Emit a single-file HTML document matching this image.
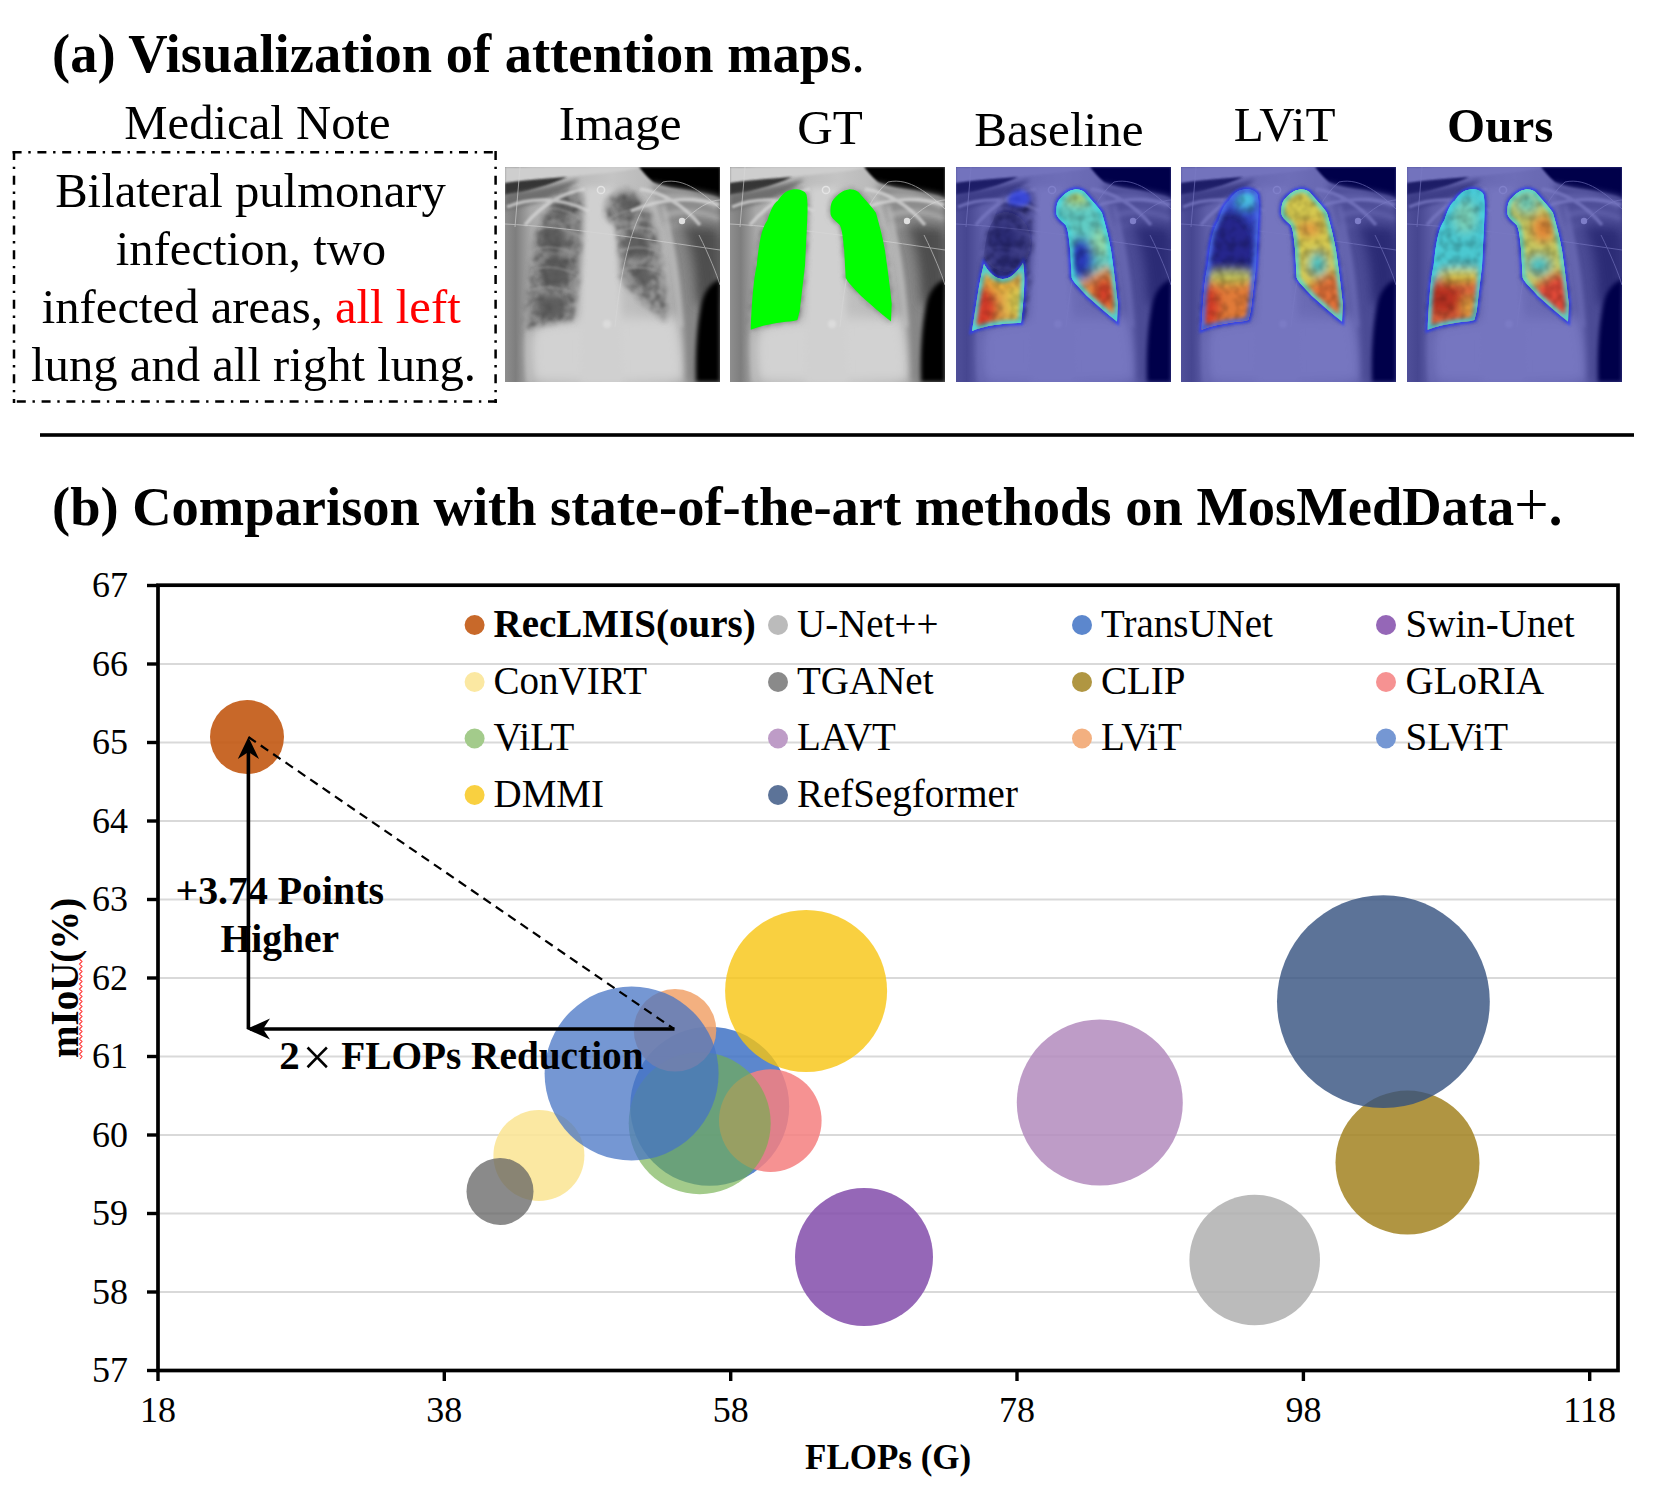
<!DOCTYPE html>
<html><head><meta charset="utf-8"><title>figure</title>
<style>html,body{margin:0;padding:0;background:#fff;} body{width:1661px;height:1491px;overflow:hidden;} svg{display:block;}</style>
</head><body>
<svg width="1661" height="1491" viewBox="0 0 1661 1491">

<defs>
 <filter id="b1" x="-20%" y="-20%" width="140%" height="140%"><feGaussianBlur stdDeviation="1"/></filter>
 <filter id="b3" x="-50%" y="-50%" width="200%" height="200%"><feGaussianBlur stdDeviation="3"/></filter>
 <filter id="b6" x="-50%" y="-50%" width="200%" height="200%"><feGaussianBlur stdDeviation="6"/></filter>
 <filter id="b10" x="-50%" y="-50%" width="200%" height="200%"><feGaussianBlur stdDeviation="10"/></filter>

 <filter id="b2" x="-50%" y="-50%" width="200%" height="200%"><feGaussianBlur stdDeviation="2"/></filter>
 <filter id="b5" x="-50%" y="-50%" width="200%" height="200%"><feGaussianBlur stdDeviation="5"/></filter>
 <clipPath id="cImg"><rect x="0" y="0" width="215" height="215"/></clipPath>
 <path id="lungL" d="M20.7,162.8 C22,130 24,110 26.7,98.6 C29,75 32,60 37.3,53.4 C41,42 44,36 47.8,33.7 C52,27 57,23 62.9,22.4 C70,22 75,24 76.5,27.7 C78,34 77.5,45 77.2,53.4 L75,98.6 L69.7,143.9 L67.4,153 C62,155 57,154.5 52.3,155.2 C40,157 30,159 20.7,162.8 Z"/>
 <path id="lungR" d="M118.7,22.4 C125,22 129,25 130.8,27.7 C137,35 142,40 145.9,45.8 C150,60 153,72 155,83.5 C158,105 160,120 161.7,136.4 L161,154.5 C150,146 140,137 130.8,128.8 C124,121 118,116 115.7,110.7 L114.2,83.5 C113,70 112,62 109.7,57.9 C104,53 101,50 100.6,47.3 C100,40 101,35 103.6,32.2 C108,27 113,23 118.7,22.4 Z"/>
 <clipPath id="cLL"><use href="#lungL"/></clipPath>
 <clipPath id="cLR"><use href="#lungR"/></clipPath>
 
 <filter id="tex" x="0" y="0" width="100%" height="100%">
  <feTurbulence type="fractalNoise" baseFrequency="0.11" numOctaves="2" seed="7" result="n"/>
  <feColorMatrix in="n" type="matrix" values="0 0 0 0 0  0 0 0 0 0  0 0 0 0 0  0 0 0 -2.2 1.35" result="m"/>
  <feComposite in="m" in2="SourceGraphic" operator="in" result="c"/>
  <feGaussianBlur in="c" stdDeviation="1.1"/>
 </filter>
 <mask id="mLL" maskUnits="userSpaceOnUse" x="0" y="0" width="215" height="215"><use href="#lungL" fill="#fff" filter="url(#b3)"/></mask>
 <mask id="mLR" maskUnits="userSpaceOnUse" x="0" y="0" width="215" height="215"><use href="#lungR" fill="#fff" filter="url(#b3)"/></mask>
 <linearGradient id="gBody" x1="0" y1="0" x2="1" y2="0">
  <stop offset="0" stop-color="#8e8e8e"/>
  <stop offset="0.05" stop-color="#7e7e7e"/>
  <stop offset="0.12" stop-color="#a8a8a8"/>
  <stop offset="0.2" stop-color="#b4b4b4"/>
  <stop offset="0.5" stop-color="#c4c4c4"/>
  <stop offset="0.75" stop-color="#b4b4b4"/>
  <stop offset="0.84" stop-color="#9c9c9c"/>
  <stop offset="0.9" stop-color="#7c7c7c"/>
  <stop offset="1" stop-color="#707070"/>
 </linearGradient>
 <g id="xray">
  <rect x="0" y="0" width="215" height="215" fill="url(#gBody)"/>
  <!-- lower body light -->
  <path d="M28,215 C24,185 24,170 30,160 C60,150 150,150 172,150 C178,175 180,195 180,215 Z" fill="#d2d2d2" filter="url(#b6)"/>
  <!-- mediastinum -->
  <path d="M80,20 L108,20 C112,60 116,120 118,215 L75,215 C76,120 78,60 80,20 Z" fill="#d0d0d0" filter="url(#b3)"/>
  <!-- top band -->
  <path d="M0,0 L138,0 C120,5 80,8 40,12 C25,13 10,15 0,17 Z" fill="#cecece" filter="url(#b1)"/>
  <path d="M0,16 C15,14 35,12 62,10 C50,16 35,21 18,25 L0,28 Z" fill="#353535" filter="url(#b1)"/>
  <path d="M0,28 C20,25 50,18 75,12 C60,25 45,32 30,36 C15,40 5,42 0,44 Z" fill="#6e6e6e" filter="url(#b2)"/>
  <!-- top right black -->
  <path d="M134,0 L215,0 L215,31 C205,28 195,25 180,23 C165,21 155,19 148,15 C142,10 138,5 134,0 Z" fill="#050505" filter="url(#b1)"/>
  <!-- right shoulder -->
  <path d="M146,16 C165,22 195,24 215,30 L215,72 C200,66 180,62 160,58 Z" fill="#8c8c8c" filter="url(#b3)"/>
  <g fill="none" stroke="#c0c0c0" stroke-width="5" opacity="0.55" filter="url(#b2)"><path d="M150,32 C170,26 195,30 212,40"/><path d="M160,48 C180,42 200,45 214,52"/></g>
  <!-- right flank / arm -->
  <path d="M162,60 C176,100 181,160 181,215 L193,215 C192,160 191,110 194,60 Z" fill="#868686" filter="url(#b3)"/>
  <path d="M176,58 L215,60 L215,132 L192,138 C190,100 186,76 176,58 Z" fill="#4e4e4e" filter="url(#b6)"/>
  <path d="M215,112 C206,116 199,124 196,138 C192,160 190,185 191,215 L215,215 Z" fill="#050505" filter="url(#b2)"/>
  <!-- ribcage edge -->
  <g fill="none" stroke="#c6c6c6" stroke-width="4" opacity="0.7" filter="url(#b2)">
   <path d="M48,32 C38,60 28,100 24,140 C22,170 22,195 24,215"/>
   <path d="M158,38 C166,70 172,110 176,160"/>
  </g>
  <!-- lungs -->
  <g filter="url(#b3)">
   <use href="#lungL" fill="#8a8a8a"/>
   <use href="#lungR" fill="#929292"/>
  </g>
  <g mask="url(#mLL)" opacity="0.4"><rect x="10" y="15" width="75" height="155" fill="#000" filter="url(#tex)"/></g>
  <g mask="url(#mLR)" opacity="0.4"><rect x="95" y="15" width="75" height="150" fill="#000" filter="url(#tex)"/></g>
  <g filter="url(#b3)" fill="#505050" opacity="0.75">
   <ellipse cx="58" cy="40" rx="11" ry="9"/>
   <ellipse cx="48" cy="72" rx="13" ry="14"/>
   <ellipse cx="50" cy="105" rx="14" ry="16"/>
   <ellipse cx="46" cy="140" rx="14" ry="12"/>
   <ellipse cx="124" cy="38" rx="11" ry="9"/>
   <ellipse cx="132" cy="78" rx="12" ry="14"/>
   <ellipse cx="138" cy="108" rx="9" ry="10"/>
  </g>
  <g clip-path="url(#cLL)" fill="none" stroke="#a4a4a4" stroke-width="2" opacity="0.45" filter="url(#b1)">
   <path d="M20,50 C40,35 60,40 80,55"/><path d="M18,68 C40,55 60,60 80,72"/><path d="M16,88 C40,75 60,80 80,92"/><path d="M14,108 C40,95 60,100 80,112"/><path d="M12,128 C40,115 60,120 80,132"/>
  </g>
  <g clip-path="url(#cLR)" fill="none" stroke="#a8a8a8" stroke-width="2" opacity="0.45" filter="url(#b1)">
   <path d="M100,55 C120,40 140,38 165,52"/><path d="M100,72 C120,58 140,56 165,70"/><path d="M100,92 C120,78 140,76 165,90"/><path d="M100,112 C120,98 140,96 165,110"/>
  </g>
  <!-- clavicles -->
  <g fill="none" stroke="#d8d8d8" stroke-width="3.5" opacity="0.75" filter="url(#b1)">
   <path d="M2,40 C25,30 55,30 84,44"/>
   <path d="M126,44 C158,30 190,30 214,38"/>
   <path d="M20,58 C35,40 55,26 80,22"/>
   <path d="M195,58 C180,40 160,26 135,22"/>
  </g>
  <!-- wires -->
  <g fill="none" stroke="#d8d8d8" stroke-width="1" opacity="0.6">
   <path d="M0,57 C60,60 140,72 215,83"/>
   <path d="M110,160 C116,100 128,40 158,15 C180,10 200,28 215,42"/>
   <path d="M178,55 C190,42 205,33 215,33"/>
   <path d="M194,68 C204,88 212,108 215,118"/>
   <path d="M15,0 L10,60"/>
  </g>
  <circle cx="96" cy="23" r="3.6" fill="none" stroke="#e4e4e4" stroke-width="1.5"/>
  <circle cx="177" cy="54" r="3.2" fill="#e0e0e0"/>
  <circle cx="102" cy="157" r="4" fill="#dcdcdc" filter="url(#b1)"/>
 </g>
<path id="hBL" d="M28,97 C33,106 40,112 47,112 C55,112 62,104 67,96 C70,110 67,140 65,156 C50,156 30,158 16,164 C20,140 23,115 28,97 Z"/><path id="hBLs" d="M52,34 C52,27 58,23 64,23 C70,23 74,27 74,32 C74,37 70,39 63,39 C56,39 52,38 52,34 Z"/><g id="heatbase">
  <use href="#xray"/>
  <rect x="0" y="0" width="215" height="215" fill="#0000a8" opacity="0.44"/>
 </g>
</defs>

<g transform="translate(505,167)" clip-path="url(#cImg)"><use href="#xray"/></g>
<g transform="translate(730,167)" clip-path="url(#cImg)"><use href="#xray"/><use href="#lungL" fill="#00ff00"/><use href="#lungR" fill="#00ff00"/></g>
<g transform="translate(956,167)" clip-path="url(#cImg)"><use href="#heatbase"/><clipPath id="hc1"><use href="#hBL"/></clipPath><use href="#hBL" fill="none" stroke="#2a3cff" stroke-width="4.5" opacity="0.75" filter="url(#b1)"/><use href="#hBL" fill="#48d8e0"/><g clip-path="url(#hc1)"><g filter="url(#b5)"><rect x="0" y="90" width="90" height="80" fill="#e0a848"/><ellipse cx="26" cy="142" rx="16" ry="24" fill="#d63c2a"/><ellipse cx="45" cy="118" rx="14" ry="8" fill="#e8b040"/><ellipse cx="60" cy="135" rx="8" ry="16" fill="#d8cc50"/></g><use href="#hBL" fill="none" stroke="#48d8e0" stroke-width="6" filter="url(#b2)"/></g><clipPath id="hc2"><use href="#lungR"/></clipPath><use href="#lungR" fill="none" stroke="#2a3cff" stroke-width="4.5" opacity="0.75" filter="url(#b1)"/><use href="#lungR" fill="#48d8e0"/><g clip-path="url(#hc2)"><g filter="url(#b5)"><rect x="90" y="0" width="90" height="170" fill="#60ccc4"/><ellipse cx="122" cy="30" rx="14" ry="9" fill="#a8d078"/><ellipse cx="146" cy="75" rx="10" ry="14" fill="#90d8a8"/><ellipse cx="124" cy="92" rx="14" ry="21" fill="#2a3ab8"/><path d="M118,120 L150,100 L170,104 L170,165 L116,134Z" fill="#e08a40"/><ellipse cx="148" cy="126" rx="11" ry="15" fill="#d4402c"/></g><use href="#lungR" fill="none" stroke="#48d8e0" stroke-width="6" filter="url(#b2)"/></g><g mask="url(#mLL)" opacity="0.25"><rect x="10" y="15" width="75" height="155" fill="#000" filter="url(#tex)"/></g><g mask="url(#mLR)" opacity="0.25"><rect x="95" y="15" width="75" height="150" fill="#000" filter="url(#tex)"/></g><use href="#hBLs" fill="#3446e8" opacity="0.8" filter="url(#b2)"/><g clip-path="url(#cLL)" filter="url(#b3)"><ellipse cx="50" cy="75" rx="25" ry="30" fill="#181860" opacity="0.35"/></g></g>
<g transform="translate(1181,167)" clip-path="url(#cImg)"><use href="#heatbase"/><clipPath id="hc3"><use href="#lungL"/></clipPath><use href="#lungL" fill="none" stroke="#2a3cff" stroke-width="4.5" opacity="0.75" filter="url(#b1)"/><use href="#lungL" fill="#4a6ae8"/><g clip-path="url(#hc3)"><g filter="url(#b5)"><rect x="0" y="0" width="90" height="170" fill="#3448c8"/><ellipse cx="66" cy="32" rx="11" ry="10" fill="#48c0e0"/><ellipse cx="48" cy="80" rx="28" ry="36" fill="#26268c"/><rect x="0" y="115" width="90" height="60" fill="#e07a38"/><ellipse cx="50" cy="110" rx="28" ry="6" fill="#c8d058"/><ellipse cx="27" cy="140" rx="12" ry="22" fill="#d63c2a"/></g><use href="#lungL" fill="none" stroke="#4a6ae8" stroke-width="6" filter="url(#b2)"/></g><clipPath id="hc4"><use href="#lungR"/></clipPath><use href="#lungR" fill="none" stroke="#2a3cff" stroke-width="4.5" opacity="0.75" filter="url(#b1)"/><use href="#lungR" fill="#58d8d0"/><g clip-path="url(#hc4)"><g filter="url(#b5)"><rect x="90" y="0" width="90" height="170" fill="#d4c850"/><ellipse cx="128" cy="62" rx="12" ry="8" fill="#e09a40"/><ellipse cx="137" cy="97" rx="9" ry="12" fill="#40c0c0"/><path d="M128,118 L150,105 L168,108 L168,165 L120,130Z" fill="#e07038"/></g><use href="#lungR" fill="none" stroke="#58d8d0" stroke-width="6" filter="url(#b2)"/></g><g mask="url(#mLL)" opacity="0.25"><rect x="10" y="15" width="75" height="155" fill="#000" filter="url(#tex)"/></g><g mask="url(#mLR)" opacity="0.25"><rect x="95" y="15" width="75" height="150" fill="#000" filter="url(#tex)"/></g></g>
<g transform="translate(1407,167)" clip-path="url(#cImg)"><use href="#heatbase"/><clipPath id="hc5"><use href="#lungL"/></clipPath><use href="#lungL" fill="none" stroke="#2a3cff" stroke-width="4.5" opacity="0.75" filter="url(#b1)"/><use href="#lungL" fill="#48d0e0"/><g clip-path="url(#hc5)"><g filter="url(#b5)"><rect x="0" y="0" width="90" height="170" fill="#4cc8d0"/><ellipse cx="58" cy="50" rx="12" ry="16" fill="#78d0b8"/><rect x="0" y="112" width="90" height="60" fill="#d8603a"/><ellipse cx="55" cy="108" rx="25" ry="6" fill="#d8d048"/><ellipse cx="36" cy="132" rx="20" ry="16" fill="#b83020"/><ellipse cx="62" cy="140" rx="8" ry="12" fill="#e0a040"/></g><use href="#lungL" fill="none" stroke="#48d0e0" stroke-width="6" filter="url(#b2)"/></g><clipPath id="hc6"><use href="#lungR"/></clipPath><use href="#lungR" fill="none" stroke="#2a3cff" stroke-width="4.5" opacity="0.75" filter="url(#b1)"/><use href="#lungR" fill="#58d8d0"/><g clip-path="url(#hc6)"><g filter="url(#b5)"><rect x="90" y="0" width="90" height="170" fill="#c4c860"/><ellipse cx="120" cy="35" rx="12" ry="12" fill="#70c8b0"/><ellipse cx="136" cy="62" rx="12" ry="14" fill="#e08838"/><ellipse cx="132" cy="98" rx="12" ry="10" fill="#48c0c0"/><path d="M128,118 L150,105 L168,108 L168,165 L120,130Z" fill="#e04a38"/></g><use href="#lungR" fill="none" stroke="#58d8d0" stroke-width="6" filter="url(#b2)"/></g><g mask="url(#mLL)" opacity="0.25"><rect x="10" y="15" width="75" height="155" fill="#000" filter="url(#tex)"/></g><g mask="url(#mLR)" opacity="0.25"><rect x="95" y="15" width="75" height="150" fill="#000" filter="url(#tex)"/></g></g>
<g fill="none" stroke="#000" stroke-width="2.5" stroke-dasharray="9 6.7 2.4 6.7"><path d="M12.6,152.3 H497"/><path d="M14,151 V403"/><path d="M495.6,151 V403"/><path d="M497,401.5 H12.6"/></g>
<g font-family='"Liberation Serif", serif' fill="#000">
<text x="52" y="72" font-size="54.5" font-weight="bold">(a) Visualization of attention maps<tspan font-weight="normal">.</tspan></text>
<text x="52" y="524.5" font-size="54.5" font-weight="bold">(b) Comparison with state-of-the-art methods on MosMedData<tspan font-weight="normal" font-size="61">+</tspan>.</text>
<text x="257.5" y="138.5" font-size="48.7" text-anchor="middle">Medical Note</text>
<text x="620.2" y="140.4" font-size="49.2" text-anchor="middle">Image</text>
<text x="830" y="144" font-size="49.2" text-anchor="middle">GT</text>
<text x="1059" y="146" font-size="49.2" text-anchor="middle">Baseline</text>
<text x="1284.6" y="141" font-size="49.2" text-anchor="middle">LViT</text>
<text x="1500.2" y="142" font-size="49" font-weight="bold" text-anchor="middle">Ours</text>
<g font-size="48.7" text-anchor="middle">
<text x="250.5" y="207">Bilateral pulmonary</text>
<text x="251" y="265">infection, two</text>
<text x="251.2" y="323.3">infected areas, <tspan fill="#ff0000">all left</tspan></text>
<text x="253.5" y="381">lung and all right lung.</text>
</g></g>
<rect x="40" y="433.2" width="1594" height="3.6" fill="#000"/>
<g stroke="#d9d9d9" stroke-width="2"><line x1="160" y1="1370.5" x2="1616" y2="1370.5"/><line x1="160" y1="1292.0" x2="1616" y2="1292.0"/><line x1="160" y1="1213.5" x2="1616" y2="1213.5"/><line x1="160" y1="1135.0" x2="1616" y2="1135.0"/><line x1="160" y1="1056.5" x2="1616" y2="1056.5"/><line x1="160" y1="978.0" x2="1616" y2="978.0"/><line x1="160" y1="899.5" x2="1616" y2="899.5"/><line x1="160" y1="821.0" x2="1616" y2="821.0"/><line x1="160" y1="742.5" x2="1616" y2="742.5"/><line x1="160" y1="664.0" x2="1616" y2="664.0"/></g>
<g><circle cx="247" cy="737" r="37" fill="rgb(194, 88, 18)" fill-opacity="0.9"/><circle cx="1254.7" cy="1260" r="65.3" fill="rgb(175, 175, 175)" fill-opacity="0.85"/><circle cx="709.7" cy="1106.3" r="79.5" fill="rgb(63, 114, 196)" fill-opacity="0.85"/><circle cx="864" cy="1257" r="69" fill="rgb(130, 76, 170)" fill-opacity="0.85"/><circle cx="538.9" cy="1155.5" r="45.5" fill="rgb(250, 229, 149)" fill-opacity="0.88"/><circle cx="500" cy="1191.4" r="33.5" fill="rgb(99, 99, 99)" fill-opacity="0.75"/><circle cx="1407.5" cy="1162.6" r="72" fill="rgb(162, 131, 33)" fill-opacity="0.85"/><circle cx="770.3" cy="1120.6" r="51.3" fill="rgb(245, 128, 128)" fill-opacity="0.86"/><circle cx="699.7" cy="1123.2" r="71" fill="rgb(115, 176, 78)" fill-opacity="0.655"/><circle cx="1099.8" cy="1102.5" r="83" fill="rgb(179, 139, 189)" fill-opacity="0.85"/><circle cx="675" cy="1030.3" r="41.3" fill="rgb(241, 162, 106)" fill-opacity="0.85"/><circle cx="631.6" cy="1073.5" r="87" fill="rgb(71, 116, 196)" fill-opacity="0.75"/><circle cx="806.1" cy="991" r="81" fill="rgb(248, 196, 16)" fill-opacity="0.8"/><circle cx="1383.4" cy="1001.6" r="106.4" fill="rgb(51, 80, 126)" fill-opacity="0.8"/></g>
<rect x="158" y="585.2" width="1460" height="785.3" fill="none" stroke="#000" stroke-width="3.7"/>
<g stroke="#000" stroke-width="3.4"><line x1="147" y1="1370.5" x2="158" y2="1370.5"/><line x1="147" y1="1292.0" x2="158" y2="1292.0"/><line x1="147" y1="1213.5" x2="158" y2="1213.5"/><line x1="147" y1="1135.0" x2="158" y2="1135.0"/><line x1="147" y1="1056.5" x2="158" y2="1056.5"/><line x1="147" y1="978.0" x2="158" y2="978.0"/><line x1="147" y1="899.5" x2="158" y2="899.5"/><line x1="147" y1="821.0" x2="158" y2="821.0"/><line x1="147" y1="742.5" x2="158" y2="742.5"/><line x1="147" y1="664.0" x2="158" y2="664.0"/><line x1="147" y1="585.5" x2="158" y2="585.5"/><line x1="158.0" y1="1370" x2="158.0" y2="1381"/><line x1="444.3" y1="1370" x2="444.3" y2="1381"/><line x1="730.7" y1="1370" x2="730.7" y2="1381"/><line x1="1017.0" y1="1370" x2="1017.0" y2="1381"/><line x1="1303.4" y1="1370" x2="1303.4" y2="1381"/><line x1="1589.7" y1="1370" x2="1589.7" y2="1381"/></g>
<g font-family='"Liberation Serif", serif' font-size="36" fill="#000"><text x="128" y="1382.0" text-anchor="end">57</text><text x="128" y="1303.5" text-anchor="end">58</text><text x="128" y="1225.0" text-anchor="end">59</text><text x="128" y="1146.5" text-anchor="end">60</text><text x="128" y="1068.0" text-anchor="end">61</text><text x="128" y="989.5" text-anchor="end">62</text><text x="128" y="911.0" text-anchor="end">63</text><text x="128" y="832.5" text-anchor="end">64</text><text x="128" y="754.0" text-anchor="end">65</text><text x="128" y="675.5" text-anchor="end">66</text><text x="128" y="597.0" text-anchor="end">67</text><text x="158.0" y="1422.2" text-anchor="middle">18</text><text x="444.3" y="1422.2" text-anchor="middle">38</text><text x="730.7" y="1422.2" text-anchor="middle">58</text><text x="1017.0" y="1422.2" text-anchor="middle">78</text><text x="1303.4" y="1422.2" text-anchor="middle">98</text><text x="1589.7" y="1422.2" text-anchor="middle">118</text></g>
<g font-family='"Liberation Serif", serif' font-size="39" fill="#000"><circle cx="474.6" cy="625" r="10" fill="rgb(200, 105, 42)"/><text x="493.5" y="636.5" font-weight="bold">RecLMIS(ours)</text><circle cx="778" cy="625" r="10" fill="rgb(187, 187, 187)"/><text x="797" y="636.5">U-Net++</text><circle cx="1082" cy="625" r="10" fill="rgb(92, 135, 205)"/><text x="1101" y="636.5">TransUNet</text><circle cx="1386" cy="625" r="10" fill="rgb(149, 103, 183)"/><text x="1405.6" y="636.5">Swin-Unet</text><circle cx="474.6" cy="682" r="10" fill="rgb(251, 232, 162)"/><text x="493.5" y="693.5">ConVIRT</text><circle cx="778" cy="682" r="10" fill="rgb(138, 138, 138)"/><text x="797" y="693.5">TGANet</text><circle cx="1082" cy="682" r="10" fill="rgb(176, 150, 66)"/><text x="1101" y="693.5">CLIP</text><circle cx="1386" cy="682" r="10" fill="rgb(246, 146, 146)"/><text x="1405.6" y="693.5">GLoRIA</text><circle cx="474.6" cy="738.5" r="10" fill="rgb(163, 203, 139)"/><text x="493.5" y="750">ViLT</text><circle cx="778" cy="738.5" r="10" fill="rgb(190, 156, 199)"/><text x="797" y="750">LAVT</text><circle cx="1082" cy="738.5" r="10" fill="rgb(243, 176, 128)"/><text x="1101" y="750">LViT</text><circle cx="1386" cy="738.5" r="10" fill="rgb(117, 151, 211)"/><text x="1405.6" y="750">SLViT</text><circle cx="474.6" cy="795" r="10" fill="rgb(249, 208, 64)"/><text x="493.5" y="806.5">DMMI</text><circle cx="778" cy="795" r="10" fill="rgb(92, 115, 152)"/><text x="797" y="806.5">RefSegformer</text></g>
<line x1="248.4" y1="737" x2="674" y2="1029" stroke="#000" stroke-width="2.2" stroke-dasharray="9 6"/>
<line x1="248.4" y1="1029" x2="248.4" y2="745" stroke="#000" stroke-width="3.6"/>
<line x1="250" y1="1029" x2="674.5" y2="1029" stroke="#000" stroke-width="3.6"/>
<path d="M248.4,737 L259,759 L248.4,752 L237.8,759 Z" fill="#000"/>
<path d="M246.6,1029 L270,1018.5 L263,1029 L270,1039.5 Z" fill="#000"/>
<g font-family='"Liberation Serif", serif' font-size="39" font-weight="bold" fill="#000">
<text x="175.5" y="904" font-size="39.8">+3.74 Points</text>
<text x="220.5" y="952" font-size="39.5">Higher</text>
<text x="279.3" y="1069" font-size="41">2</text>
<text x="302.5" y="1075.4" font-size="52" font-weight="normal">×</text>
<text x="341.2" y="1069" font-size="39.3">FLOPs Reduction</text>
<text transform="translate(78,1058) rotate(-90)">mIoU(%)</text>
</g>
<path d="M80,1059 L82,1056.5 L79.5,1054.0 L82,1051.5 L79.5,1049.0 L82,1046.5 L79.5,1044.0 L82,1041.5 L79.5,1039.0 L82,1036.5 L79.5,1034.0 L82,1031.5 L79.5,1029.0 L82,1026.5 L79.5,1024.0 L82,1021.5 L79.5,1019.0 L82,1016.5 L79.5,1014.0 L82,1011.5 L79.5,1009.0 L82,1006.5 L79.5,1004.0 L82,1001.5 L79.5,999.0 L82,996.5 L79.5,994.0 L82,991.5 L79.5,989.0 L82,986.5 L79.5,984.0 L82,981.5 L79.5,979.0 L82,976.5 L79.5,974.0 L82,971.5 L79.5,969.0 L82,966.5 L79.5,964.0 L82,961.5 L79.5,959.0" fill="none" stroke="#ff3838" stroke-width="1.1"/>
<text x="805" y="1468.5" font-family='"Liberation Serif", serif' font-size="35" font-weight="bold">FLOPs (G)</text>
</svg>
</body></html>
